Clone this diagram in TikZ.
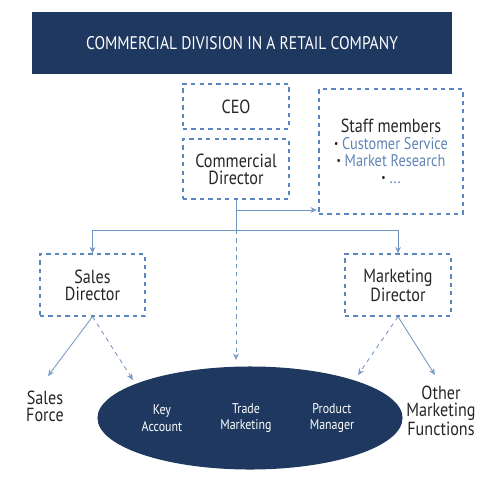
\documentclass[tikz,border=0pt]{standalone}
\usepackage{fontspec}
\setmainfont{PT Sans}[FakeStretch=0.85]
\usepackage{xcolor}
\usepackage{tikz}
\usetikzlibrary{arrows.meta,shapes.geometric}
\definecolor{navy}{RGB}{31,56,96}
\definecolor{dashblue}{RGB}{92,134,190}
\definecolor{linkblue}{RGB}{112,148,196}
\definecolor{ink}{RGB}{38,38,38}
\definecolor{staffblue}{RGB}{96,132,182}
\newcommand{\staffdot}{\raisebox{1.3pt}{\fontsize{8}{14}\selectfont\textbullet}\ }

\begin{document}
\begin{tikzpicture}[x=0.025cm,y=-0.025cm,
    rolebox/.style={draw=dashblue,dashed,line width=0.9pt,align=center,text=ink,inner sep=0pt},
    link/.style={draw=linkblue,line width=0.6pt,-{Stealth[length=1.6mm,width=1.4mm,open]}},
    dashlink/.style={link,dashed}]
  \useasboundingbox (0,0) rectangle (480,480);
  \node[fill=navy,minimum width=10.5cm,minimum height=1.55cm,text=white] (title) at (242,43) {\fontsize{13}{16}\selectfont COMMERCIAL DIVISION IN A RETAIL COMPANY};

  \node[rolebox,minimum width=2.65cm,minimum height=1.125cm] (ceo) at (236,106.5) {\fontsize{13.5}{15}\selectfont CEO};
  \node[rolebox,minimum width=2.65cm,minimum height=1.5cm] (comdir) at (236,169) {\fontsize{13.5}{15}\selectfont Commercial\\\fontsize{13.5}{15}\selectfont Director};
  \node[rolebox,minimum width=3.6cm,minimum height=3.125cm] (staff) at (391,151.5) {\fontsize{13.5}{14}\selectfont Staff members\\
    \fontsize{12}{14}\selectfont \staffdot\textcolor{staffblue}{Customer Service}\\
    \fontsize{12}{14}\selectfont \staffdot\textcolor{staffblue}{Market Research}\\
    \fontsize{12}{14}\selectfont \staffdot\textcolor{staffblue}{...}};

  \node[rolebox,minimum width=2.625cm,minimum height=1.55cm] (salesdir) at (92.5,285) {\fontsize{13.5}{15}\selectfont Sales\\\fontsize{13.5}{15}\selectfont Director};
  \node[rolebox,minimum width=2.65cm,minimum height=1.55cm] (mktdir) at (398,285) {\fontsize{13.5}{15}\selectfont Marketing\\\fontsize{13.5}{15}\selectfont Director};

  \node[ellipse,fill=navy,minimum width=7.625cm,minimum height=2.575cm] (team) at (250,418) {};
  \node[text=white,align=center] (keyacc) at (162,418) {\fontsize{10}{13.5}\selectfont Key\\\fontsize{10}{13.5}\selectfont Account};
  \node[text=white,align=center] (trade) at (246,418) {\fontsize{10}{13.5}\selectfont Trade\\\fontsize{10}{13.5}\selectfont Marketing};
  \node[text=white,align=center] (prodman) at (332,418) {\fontsize{10}{13.5}\selectfont Product\\\fontsize{10}{13.5}\selectfont Manager};

  \node[text=ink,align=center] (salesforce) at (45,406) {\fontsize{13.5}{15.5}\selectfont Sales\\\fontsize{13.5}{15.5}\selectfont Force};
  \node[text=ink,align=center] (othermkt) at (441,411) {\fontsize{13.5}{15}\selectfont Other\\\fontsize{13.5}{15}\selectfont Marketing\\\fontsize{13.5}{15}\selectfont Functions};

  % connectors
  \coordinate (split) at (236,210);
  \coordinate (branch) at (236,230);
  \coordinate (sftip) at (48,376);
  \coordinate (katip) at (133,380);
  \coordinate (pmtip) at (358,375);
  \coordinate (omtip) at (435,375);
  \coordinate (trtip) at (236,360);
  \draw[link] (comdir.south) -- (split) -- ([xshift=-1pt]split -| staff.west);
  \draw[link,-] (split) -- (branch);
  \draw[link] (branch) -| (salesdir.north);
  \draw[link] (branch) -| (mktdir.north);
  \draw[dashlink] (branch) -- (trtip);
  \draw[link] (salesdir.south) -- (sftip);
  \draw[dashlink] (salesdir.south) -- (katip);
  \draw[dashlink] (mktdir.south) -- (pmtip);
  \draw[link] (mktdir.south) -- (omtip);
\end{tikzpicture}
\end{document}
